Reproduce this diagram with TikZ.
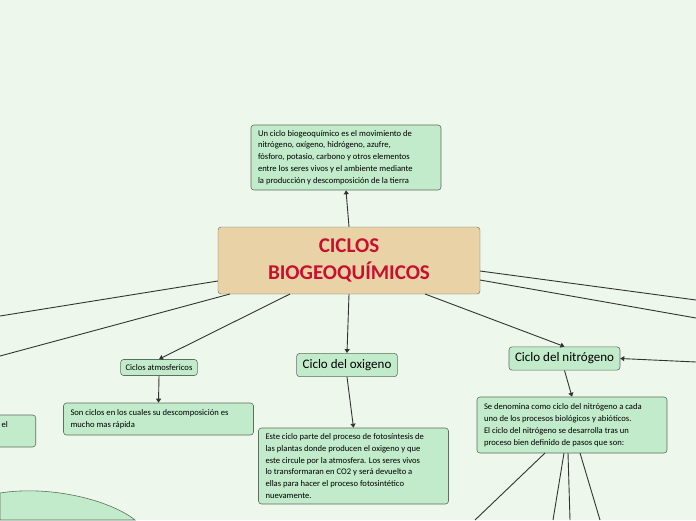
\documentclass[tikz,border=0pt]{standalone}
\usepackage{fontspec}
\setmainfont{Carlito}
\usetikzlibrary{arrows.meta}
\definecolor{bg}{HTML}{EEF7EC}
\definecolor{gf}{HTML}{C1EBCA}
\definecolor{bd}{HTML}{5E6E60}
\definecolor{cf}{HTML}{E9D3A6}
\definecolor{rd}{HTML}{C8102E}
\tikzset{
 box/.style={draw=bd,fill=gf,rounded corners=3pt,line width=0.6pt,inner ysep=5pt,inner xsep=7pt,text width=176pt,font=\fontsize{8.6}{11.8}\selectfont,align=flush left},
 title/.style={draw=bd,fill=gf,rounded corners=3pt,line width=0.6pt,font=\fontsize{13}{15}\selectfont,inner sep=6pt},
 con/.style={draw=black!80,line width=0.9pt},
 arr/.style={con,-{Triangle[length=4pt,width=5pt]}}
}
\begin{document}
\begin{tikzpicture}[x=1pt,y=-1pt]
\fill[bg] (0,0) rectangle (696,520);
\useasboundingbox (0,0) rectangle (696,520);
\node[draw=bd,fill=cf,rounded corners=3pt,minimum width=262,minimum height=67,align=center,text=rd,font=\fontsize{21}{27}\selectfont\bfseries] (c) at (349,260.5) {CICLOS\\BIOGEOQUÍMICOS};
\node[box,minimum height=65] (t) at (346,157.5) {Un ciclo biogeoquímico es el movimiento de\\nitrógeno, oxígeno, hidrógeno, azufre,\\fósforo, potasio, carbono y otros elementos\\entre los seres vivos y el ambiente mediante\\la producción y descomposición de la tierra};
\node[draw=bd,fill=gf,rounded corners=3pt,line width=0.6pt,inner sep=5pt,font=\fontsize{8.6}{10}\selectfont] (a) at (159,367.5) {Ciclos atmosfericos};
\node[box,minimum height=32] (s) at (158.5,419) {Son ciclos en los cuales su descomposición es\\mucho mas rápida};
\node[title] (o) at (347,365) {Ciclo del oxigeno};
\node[box,minimum height=76] (e) at (353.5,466) {Este ciclo parte del proceso de fotosíntesis de\\las plantas donde producen el oxigeno y que\\este circule por la atmosfera. Los seres vivos\\lo transformaran en CO2 y será devuelto a\\ellas para hacer el proceso fotosintético\\nuevamente.};
\node[title] (n) at (564.5,358.5) {Ciclo del nitrógeno};
\node[box,minimum height=56] (d) at (572,425) {Se denomina como ciclo del nitrógeno a cada\\uno de los procesos biológicos y abióticos.\\El ciclo del nitrógeno se desarrolla tras un\\proceso bien definido de pasos que son:};
\node[draw=bd,fill=gf,rounded corners=3pt,line width=0.6pt,minimum width=50,minimum height=32,anchor=east] (l) at (36,431) {};
\node[font=\fontsize{8.6}{10}\selectfont,anchor=west] (lt) at (-2,425) {el};
\draw[draw=bd,fill=gf,line width=0.6pt] (0,493) .. controls (50,485) and (110,500) .. (135,520) -- (0,520) -- cycle;
\coordinate (L1) at (0,316); \coordinate (L2) at (0,356);
\coordinate (R1) at (696,300); \coordinate (R2) at (696,318); \coordinate (R3) at (696,362);
\draw[con] (c.west |- 0,281) -- (L1);
\draw[con] (230,294) -- (L2);
\draw[con] (480,271) -- (R1);
\draw[con] (480,280) -- (R2);
\draw[arr] (R3) -- (n.east);
\draw[arr] (c.north) -- (t.south);
\draw[arr] (290,294) -- (a.north);
\draw[arr] (c.south) -- (o.north);
\draw[arr] (425,294) -- (n.north);
\draw[arr] (a.south) -- (s.north);
\draw[arr] (o.south) -- (e.north);
\draw[arr] (n.south) -- (d.north);
\coordinate (B1) at (475,520); \coordinate (B2) at (553,520); \coordinate (B3) at (570,520); \coordinate (B4) at (600,520);
\draw[con] (545,453) -- (B1);
\draw[con] (564,453) -- (B2);
\draw[con] (568,453) -- (B3);
\draw[con] (580,453) -- (B4);
\end{tikzpicture}
\end{document}
